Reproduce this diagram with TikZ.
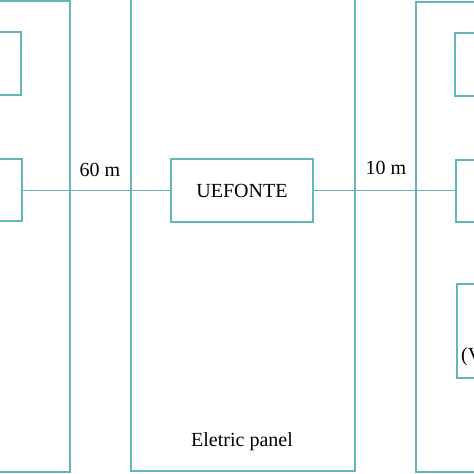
\documentclass[tikz,border=0pt]{standalone}
\usepackage{fontspec}
\setmainfont{Liberation Serif}
\definecolor{teal1}{RGB}{98,182,187}
\begin{document}
\begin{tikzpicture}[x=1pt,y=-1pt,
  frame/.style={draw=teal1,line width=1.7pt},
  boxn/.style={draw=teal1,line width=1.7pt,inner sep=0pt},
  wire/.style={draw=teal1,line width=1.6pt},
  lbl/.style={font=\fontsize{20}{23}\selectfont,inner sep=0pt}]
\useasboundingbox (0,0) rectangle (474,474);
\begin{scope}
\clip (0,0) rectangle (474,474);
% big frames
\draw[frame] (-20,1) rectangle (70,472);
\draw[frame] (131,-10) rectangle (355,471);
\draw[frame] (416,2) rectangle (500,472);
% left boxes
\node[boxn,minimum width=50pt,minimum height=63pt] (L1) at (-4,63.5) {};
\node[boxn,minimum width=50pt,minimum height=62pt] (L2) at (-3,190) {};
% right boxes
\node[boxn,minimum width=50pt,minimum height=63pt] (R1) at (480,64.5) {};
\node[boxn,minimum width=50pt,minimum height=62pt] (R2) at (481,191) {};
\node[boxn,minimum width=50pt,minimum height=94pt] (R3) at (482,331) {};
\node[lbl,anchor=west] (R3t) at (461,357) {(V)};
% middle
\node[boxn,minimum width=142pt,minimum height=63pt,lbl] (U) at (242,190.5) {UEFONTE};
\node[lbl] (EP) at (242,442) {Eletric panel};
\node[lbl] (d60) at (100,170) {60 m};
\node[lbl] (d10) at (386,168) {10 m};
% wires
\draw[wire] (L2.east |- U.west) -- (U.west);
\draw[wire] (U.east) -- (R2.west |- U.east);
\end{scope}
\end{tikzpicture}
\end{document}
